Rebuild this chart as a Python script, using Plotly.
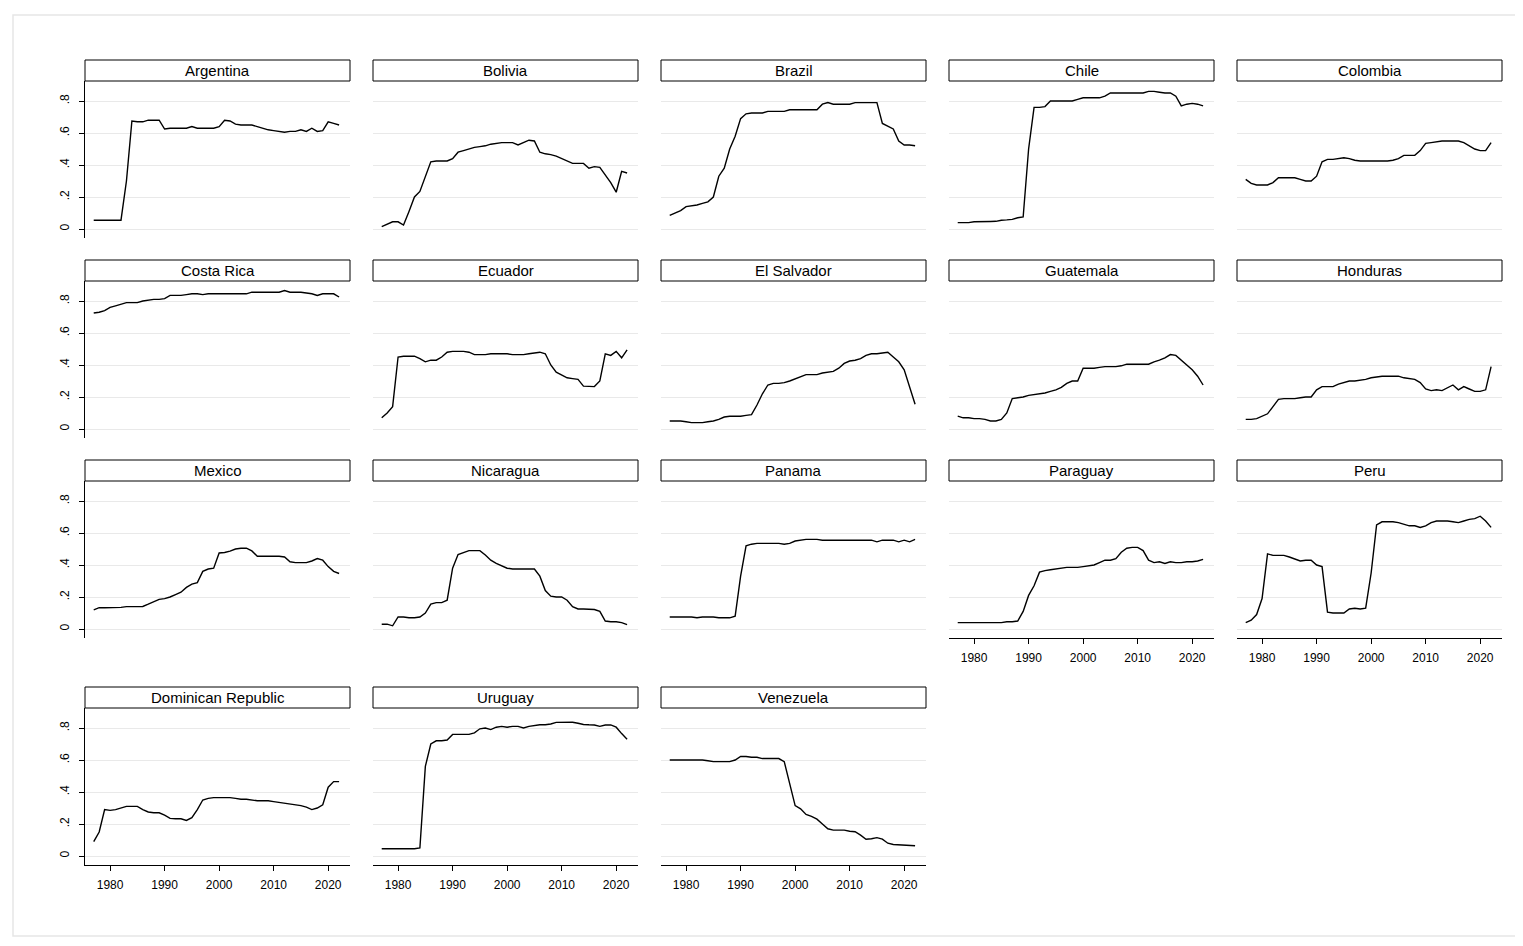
import plotly.graph_objects as go

years = list(range(1977, 2023))

countries = ["Argentina", "Bolivia", "Brazil", "Chile", "Colombia",
             "Costa Rica", "Ecuador", "El Salvador", "Guatemala", "Honduras",
             "Mexico", "Nicaragua", "Panama", "Paraguay", "Peru",
             "Dominican Republic", "Uruguay", "Venezuela"]

argentina = [0.055, 0.055, 0.055, 0.055, 0.055, 0.055, 0.30, 0.675, 0.67, 0.67,
             0.68, 0.68, 0.68, 0.625, 0.63, 0.63, 0.63, 0.63, 0.64, 0.63,
             0.63, 0.63, 0.63, 0.64, 0.68, 0.675, 0.655, 0.65, 0.65, 0.65,
             0.64, 0.63, 0.62, 0.615, 0.61, 0.605, 0.61, 0.61, 0.62, 0.61,
             0.63, 0.61, 0.615, 0.67, 0.66, 0.65]
bolivia = [0.015, 0.03, 0.045, 0.045, 0.025, 0.11, 0.2, 0.235, 0.33, 0.42,
           0.425, 0.425, 0.425, 0.44, 0.48, 0.49, 0.5, 0.51, 0.515, 0.52,
           0.53, 0.535, 0.54, 0.54, 0.54, 0.525, 0.54, 0.555, 0.55, 0.48,
           0.47, 0.465, 0.455, 0.44, 0.42, 0.41, 0.41, 0.41, 0.38, 0.39,
           0.385, 0.34, 0.29, 0.23, 0.36, 0.35]
brazil = [0.085, 0.1, 0.115, 0.14, 0.145, 0.15, 0.16, 0.17, 0.2, 0.33,
          0.38, 0.5, 0.58, 0.69, 0.72, 0.725, 0.725, 0.725, 0.735, 0.735,
          0.735, 0.735, 0.745, 0.745, 0.745, 0.745, 0.745, 0.745, 0.78, 0.79,
          0.78, 0.78, 0.78, 0.78, 0.79, 0.79, 0.79, 0.79, 0.79, 0.66,
          0.645, 0.625, 0.55, 0.525, 0.525, 0.52]
chile = [0.04, 0.04, 0.04, 0.045, 0.047, 0.047, 0.047, 0.048, 0.055, 0.057,
         0.06, 0.07, 0.075, 0.5, 0.76, 0.76, 0.765, 0.8, 0.8, 0.8,
         0.8, 0.8, 0.81, 0.82, 0.82, 0.82, 0.82, 0.83, 0.85, 0.85,
         0.85, 0.85, 0.85, 0.85, 0.85, 0.86, 0.86, 0.855, 0.85, 0.85,
         0.83, 0.77, 0.78, 0.785, 0.78, 0.77]
colombia = [0.31, 0.285, 0.275, 0.275, 0.275, 0.29, 0.32, 0.32, 0.32, 0.32,
            0.31, 0.3, 0.3, 0.33, 0.42, 0.435, 0.435, 0.44, 0.445, 0.44,
            0.43, 0.425, 0.425, 0.425, 0.425, 0.425, 0.425, 0.43, 0.44, 0.46,
            0.46, 0.46, 0.49, 0.535, 0.54, 0.545, 0.55, 0.55, 0.55, 0.55,
            0.54, 0.52, 0.5, 0.49, 0.49, 0.54]
costa_rica = [0.725, 0.73, 0.74, 0.76, 0.77, 0.78, 0.79, 0.79, 0.79, 0.8,
              0.805, 0.81, 0.81, 0.815, 0.835, 0.835, 0.835, 0.84, 0.845, 0.845,
              0.84, 0.845, 0.845, 0.845, 0.845, 0.845, 0.845, 0.845, 0.845, 0.855,
              0.855, 0.855, 0.855, 0.855, 0.855, 0.865, 0.855, 0.855, 0.855, 0.85,
              0.845, 0.835, 0.845, 0.845, 0.845, 0.825]
ecuador = [0.07, 0.1, 0.14, 0.45, 0.455, 0.455, 0.455, 0.44, 0.42, 0.43,
           0.43, 0.45, 0.48, 0.485, 0.485, 0.485, 0.48, 0.465, 0.465, 0.465,
           0.47, 0.47, 0.47, 0.47, 0.465, 0.465, 0.465, 0.47, 0.475, 0.48,
           0.47, 0.4, 0.355, 0.335, 0.32, 0.315, 0.31, 0.268, 0.265, 0.265,
           0.3, 0.47, 0.46, 0.485, 0.445, 0.495]
el_salvador = [0.05, 0.05, 0.05, 0.045, 0.04, 0.04, 0.04, 0.045, 0.05, 0.06,
               0.075, 0.08, 0.08, 0.08, 0.085, 0.09, 0.15, 0.22, 0.275, 0.285,
               0.285, 0.29, 0.3, 0.315, 0.33, 0.34, 0.34, 0.34, 0.35, 0.355,
               0.36, 0.38, 0.41, 0.425, 0.43, 0.44, 0.46, 0.47, 0.47, 0.475,
               0.48, 0.45, 0.42, 0.37, 0.26, 0.155]
guatemala = [0.08, 0.07, 0.07, 0.065, 0.065, 0.06, 0.05, 0.05, 0.06, 0.1,
             0.19, 0.195, 0.2, 0.21, 0.215, 0.22, 0.225, 0.235, 0.245, 0.26,
             0.285, 0.3, 0.3, 0.38, 0.38, 0.38, 0.385, 0.39, 0.39, 0.39,
             0.395, 0.405, 0.405, 0.405, 0.405, 0.405, 0.42, 0.43, 0.445, 0.465,
             0.46, 0.43, 0.405, 0.37, 0.33, 0.275]
honduras = [0.06, 0.06, 0.065, 0.08, 0.095, 0.14, 0.185, 0.19, 0.19, 0.19,
            0.195, 0.2, 0.2, 0.245, 0.265, 0.265, 0.265, 0.28, 0.29, 0.3,
            0.3, 0.305, 0.31, 0.32, 0.325, 0.33, 0.33, 0.33, 0.33, 0.32,
            0.315, 0.31, 0.29, 0.25, 0.24, 0.245, 0.24, 0.26, 0.275, 0.245,
            0.265, 0.25, 0.235, 0.235, 0.245, 0.39]
mexico = [0.12, 0.133, 0.133, 0.133, 0.135, 0.135, 0.14, 0.14, 0.14, 0.141,
          0.155, 0.17, 0.185, 0.19, 0.2, 0.215, 0.23, 0.26, 0.28, 0.29,
          0.36, 0.375, 0.38, 0.475, 0.478, 0.487, 0.5, 0.505, 0.505, 0.488,
          0.455, 0.455, 0.455, 0.455, 0.455, 0.45, 0.42, 0.415, 0.415, 0.415,
          0.425, 0.44, 0.43, 0.39, 0.36, 0.347]
nicaragua = [0.03, 0.03, 0.02, 0.075, 0.075, 0.07, 0.07, 0.075, 0.1, 0.155,
             0.165, 0.165, 0.18, 0.38, 0.465, 0.48, 0.49, 0.49, 0.49, 0.463,
             0.43, 0.41, 0.395, 0.38, 0.375, 0.375, 0.375, 0.375, 0.375, 0.33,
             0.24, 0.205, 0.2, 0.2, 0.18, 0.14, 0.125, 0.125, 0.125, 0.122,
             0.11, 0.05, 0.045, 0.045, 0.04, 0.027]
panama = [0.075, 0.075, 0.075, 0.075, 0.075, 0.07, 0.075, 0.075, 0.075, 0.07,
          0.07, 0.07, 0.08, 0.33, 0.52, 0.53, 0.535, 0.535, 0.535, 0.535,
          0.535, 0.53, 0.535, 0.55, 0.555, 0.56, 0.56, 0.56, 0.555, 0.555,
          0.555, 0.555, 0.555, 0.555, 0.555, 0.555, 0.555, 0.555, 0.545, 0.555,
          0.555, 0.555, 0.545, 0.555, 0.545, 0.56]
paraguay = [0.04, 0.04, 0.04, 0.04, 0.04, 0.04, 0.04, 0.04, 0.04, 0.045,
            0.045, 0.05, 0.11, 0.21, 0.27, 0.355, 0.365, 0.37, 0.375, 0.38,
            0.385, 0.385, 0.385, 0.39, 0.395, 0.4, 0.415, 0.43, 0.43, 0.44,
            0.48, 0.505, 0.51, 0.51, 0.49, 0.43, 0.415, 0.42, 0.41, 0.42,
            0.415, 0.415, 0.42, 0.42, 0.425, 0.435]
peru = [0.04, 0.055, 0.09, 0.19, 0.47, 0.46, 0.46, 0.46, 0.45, 0.435,
        0.425, 0.43, 0.43, 0.4, 0.39, 0.105, 0.1, 0.1, 0.1, 0.125,
        0.13, 0.125, 0.13, 0.35, 0.65, 0.67, 0.67, 0.67, 0.665, 0.655,
        0.645, 0.645, 0.635, 0.645, 0.665, 0.675, 0.675, 0.675, 0.67, 0.665,
        0.675, 0.685, 0.69, 0.705, 0.675, 0.635]
dominican_republic = [0.09, 0.15, 0.29, 0.285, 0.29, 0.3, 0.31, 0.31, 0.31, 0.29,
                      0.275, 0.27, 0.27, 0.255, 0.235, 0.233, 0.233, 0.222, 0.24, 0.29,
                      0.35, 0.36, 0.365, 0.365, 0.365, 0.365, 0.36, 0.355, 0.355, 0.35,
                      0.345, 0.345, 0.345, 0.34, 0.335, 0.33, 0.325, 0.32, 0.315, 0.305,
                      0.29, 0.3, 0.32, 0.43, 0.465, 0.465]
uruguay = [0.045, 0.045, 0.045, 0.045, 0.045, 0.045, 0.045, 0.05, 0.56, 0.7,
           0.72, 0.72, 0.725, 0.76, 0.76, 0.76, 0.76, 0.77, 0.795, 0.8,
           0.79, 0.805, 0.81, 0.805, 0.81, 0.81, 0.8, 0.81, 0.815, 0.82,
           0.82, 0.825, 0.835, 0.836, 0.836, 0.836, 0.83, 0.822, 0.82, 0.819,
           0.81, 0.819, 0.819, 0.805, 0.765, 0.73]
venezuela = [0.6, 0.6, 0.6, 0.6, 0.6, 0.6, 0.6, 0.595, 0.59, 0.59,
             0.59, 0.59, 0.6, 0.622, 0.622, 0.617, 0.617, 0.609, 0.609, 0.609,
             0.609, 0.59, 0.45, 0.315, 0.295, 0.26, 0.248, 0.23, 0.2, 0.17,
             0.162, 0.162, 0.162, 0.155, 0.152, 0.13, 0.105, 0.108, 0.115, 0.105,
             0.08, 0.072, 0.07, 0.064, 0.064, 0.064]

series = [argentina, bolivia, brazil, chile, colombia,
          costa_rica, ecuador, el_salvador, guatemala, honduras,
          mexico, nicaragua, panama, paraguay, peru,
          dominican_republic, uruguay, venezuela]

x_tickvals = [1980, 1990, 2000, 2010, 2020]
y_tickvals = [0, 0.2, 0.4, 0.6, 0.8]
y_ticktext = ["0", ".2", ".4", ".6", ".8"]

# ---- geometry (screen pixels) ----
FIG_W, FIG_H = 1507, 930
OFF = 8


def px(sx):
    return (sx - OFF) / FIG_W


def py(sy):
    return 1 - (sy - OFF) / FIG_H


col_left = [85 + 288 * c for c in range(5)]
col_w = 265
row_top = [60, 260, 460, 687]
box_h = 21
plot_h = 157
bottom_idx = {13, 14, 15, 16, 17}
left_idx = {0, 5, 10, 15}

FONT = "Liberation Sans, Arial, sans-serif"

fig = go.Figure()
shapes = []
annotations = []
layout_axes = {}

for i, (name, vals) in enumerate(zip(countries, series)):
    r, c = divmod(i, 5)
    L = col_left[c]
    T = row_top[r]
    xa = "x" if i == 0 else f"x{i + 1}"
    ya = "y" if i == 0 else f"y{i + 1}"
    xkey = "xaxis" if i == 0 else f"xaxis{i + 1}"
    ykey = "yaxis" if i == 0 else f"yaxis{i + 1}"

    fig.add_trace(go.Scatter(x=years, y=vals, mode="lines", xaxis=xa, yaxis=ya,
                             line=dict(color="black", width=1.4),
                             showlegend=False, hoverinfo="x+y"))

    is_bottom = i in bottom_idx
    is_left = i in left_idx

    layout_axes[xkey] = dict(
        domain=[px(L), px(L + col_w)], anchor=ya,
        range=[1975.4, 2024.0], showgrid=False, zeroline=False,
        showline=is_bottom, linecolor="black", linewidth=1,
        ticks="outside" if is_bottom else "", ticklen=5, tickwidth=1, tickcolor="black",
        tickvals=x_tickvals, showticklabels=is_bottom, ticklabelstandoff=4,
        tickfont=dict(family=FONT, size=12, color="black"),
        fixedrange=True,
    )
    layout_axes[ykey] = dict(
        domain=[py(T + box_h + plot_h), py(T + box_h)], anchor=xa,
        range=[-0.05625, 0.925], showgrid=True, gridcolor="#e9e9e9", gridwidth=1,
        zeroline=False, showline=is_left, linecolor="black", linewidth=1,
        ticks="outside" if is_left else "", ticklen=5, tickwidth=1, tickcolor="black",
        tickvals=y_tickvals, ticktext=y_ticktext, showticklabels=is_left,
        tickangle=-90, ticklabelstandoff=5,
        tickfont=dict(family=FONT, size=12, color="black"),
        fixedrange=True,
    )

    shapes.append(dict(type="rect", xref="paper", yref="paper",
                       x0=px(L), x1=px(L + col_w), y0=py(T + box_h), y1=py(T),
                       line=dict(color="black", width=1), fillcolor="white"))
    annotations.append(dict(text=name, xref="paper", yref="paper",
                            x=px(L + col_w / 2), y=py(T + box_h / 2),
                            xanchor="center", yanchor="middle", showarrow=False,
                            font=dict(family=FONT, size=15, color="black")))

# light outer frame
shapes.append(dict(type="rect", xref="paper", yref="paper", layer="below",
                   x0=px(13), x1=px(1540), y0=py(936), y1=py(15),
                   line=dict(color="#e6e6e6", width=1.5), fillcolor="rgba(0,0,0,0)"))

fig.update_layout(
    width=FIG_W, height=FIG_H,
    margin=dict(l=0, r=0, t=0, b=0),
    paper_bgcolor="white", plot_bgcolor="white",
    shapes=shapes, annotations=annotations,
    showlegend=False,
    **layout_axes,
)

fig.write_html("out.html")
